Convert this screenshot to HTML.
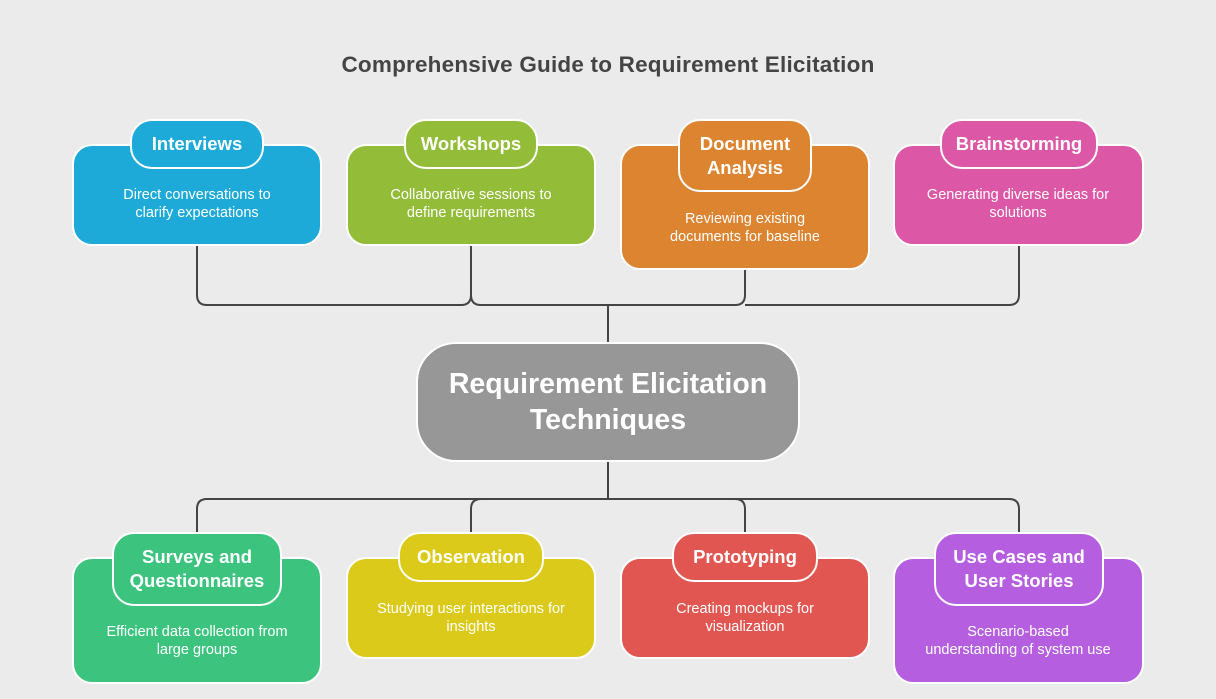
<!DOCTYPE html>
<html><head><meta charset="utf-8"><style>
body{margin:0;width:1216px;height:699px;background:#ebebeb;position:relative;overflow:hidden;font-family:"Liberation Sans",sans-serif}
.t{position:absolute;left:0;width:1216px;top:52px;text-align:center;font-size:22.5px;font-weight:bold;color:#444;letter-spacing:0.2px}
.b{position:absolute;border:2px solid #fff;border-radius:20px;box-sizing:border-box}
.p{position:absolute;border:2px solid #fff;border-radius:22px;box-sizing:border-box;color:#fff;font-weight:bold;font-size:18.5px;line-height:24px;text-align:center;display:flex;align-items:center;justify-content:center;white-space:nowrap}
.d{position:absolute;color:#fff;font-size:14.5px;line-height:18px;text-align:center;width:248px;white-space:nowrap}
</style></head><body>
<div class="t">Comprehensive Guide to Requirement Elicitation</div>
<svg width="1216" height="699" style="position:absolute;left:0;top:0" fill="none" stroke="#444" stroke-width="2">
<path d="M197 245V295Q197 305 207 305H461Q471 305 471 295V245"/>
<path d="M745 269V295Q745 305 735 305H481Q471 305 471 295"/>
<path d="M1019 245V295Q1019 305 1009 305H745"/>
<path d="M608 305V343"/>
<path d="M608 461V499"/>
<path d="M197 558V509Q197 499 207 499H1009Q1019 499 1019 509V558"/>
<path d="M471 558V509Q471 499 481 499H735Q745 499 745 509V558"/>
</svg>
<div class="b" style="left:72px;top:144px;width:250px;height:102px;background:#1eaad9"></div>
<div class="b" style="left:346px;top:144px;width:250px;height:102px;background:#93bc38"></div>
<div class="b" style="left:620px;top:144px;width:250px;height:126px;background:#dd8430"></div>
<div class="b" style="left:893px;top:144px;width:251px;height:102px;background:#dc57a5"></div>
<div class="p" style="left:130px;top:119px;width:134px;height:50px;background:#1eaad9">Interviews</div>
<div class="p" style="left:404px;top:119px;width:134px;height:50px;background:#93bc38">Workshops</div>
<div class="p" style="left:678px;top:119px;width:134px;height:73px;background:#dd8430">Document<br>Analysis</div>
<div class="p" style="left:940px;top:119px;width:158px;height:50px;background:#dc57a5">Brainstorming</div>
<div class="d" style="left:73px;top:186px">Direct conversations to<br>clarify expectations</div>
<div class="d" style="left:347px;top:186px">Collaborative sessions to<br>define requirements</div>
<div class="d" style="left:621px;top:210px">Reviewing existing<br>documents for baseline</div>
<div class="d" style="left:894px;top:186px">Generating diverse ideas for<br>solutions</div>

<div class="b" style="left:416px;top:342px;width:384px;height:120px;background:#979797;border-radius:40px;color:#fff;font-weight:bold;font-size:28.5px;line-height:36px;text-align:center;display:flex;align-items:center;justify-content:center">Requirement Elicitation<br>Techniques</div>

<div class="b" style="left:72px;top:557px;width:250px;height:127px;background:#3cc47f"></div>
<div class="b" style="left:346px;top:557px;width:250px;height:102px;background:#dcca1a"></div>
<div class="b" style="left:620px;top:557px;width:250px;height:102px;background:#e25651"></div>
<div class="b" style="left:893px;top:557px;width:251px;height:127px;background:#b55ee0"></div>
<div class="p" style="left:112px;top:532px;width:170px;height:74px;background:#3cc47f">Surveys and<br>Questionnaires</div>
<div class="p" style="left:398px;top:532px;width:146px;height:50px;background:#dcca1a">Observation</div>
<div class="p" style="left:672px;top:532px;width:146px;height:50px;background:#e25651">Prototyping</div>
<div class="p" style="left:934px;top:532px;width:170px;height:74px;background:#b55ee0">Use Cases and<br>User Stories</div>
<div class="d" style="left:73px;top:623px">Efficient data collection from<br>large groups</div>
<div class="d" style="left:347px;top:600px">Studying user interactions for<br>insights</div>
<div class="d" style="left:621px;top:600px">Creating mockups for<br>visualization</div>
<div class="d" style="left:894px;top:623px">Scenario-based<br>understanding of system use</div>
</body></html>
